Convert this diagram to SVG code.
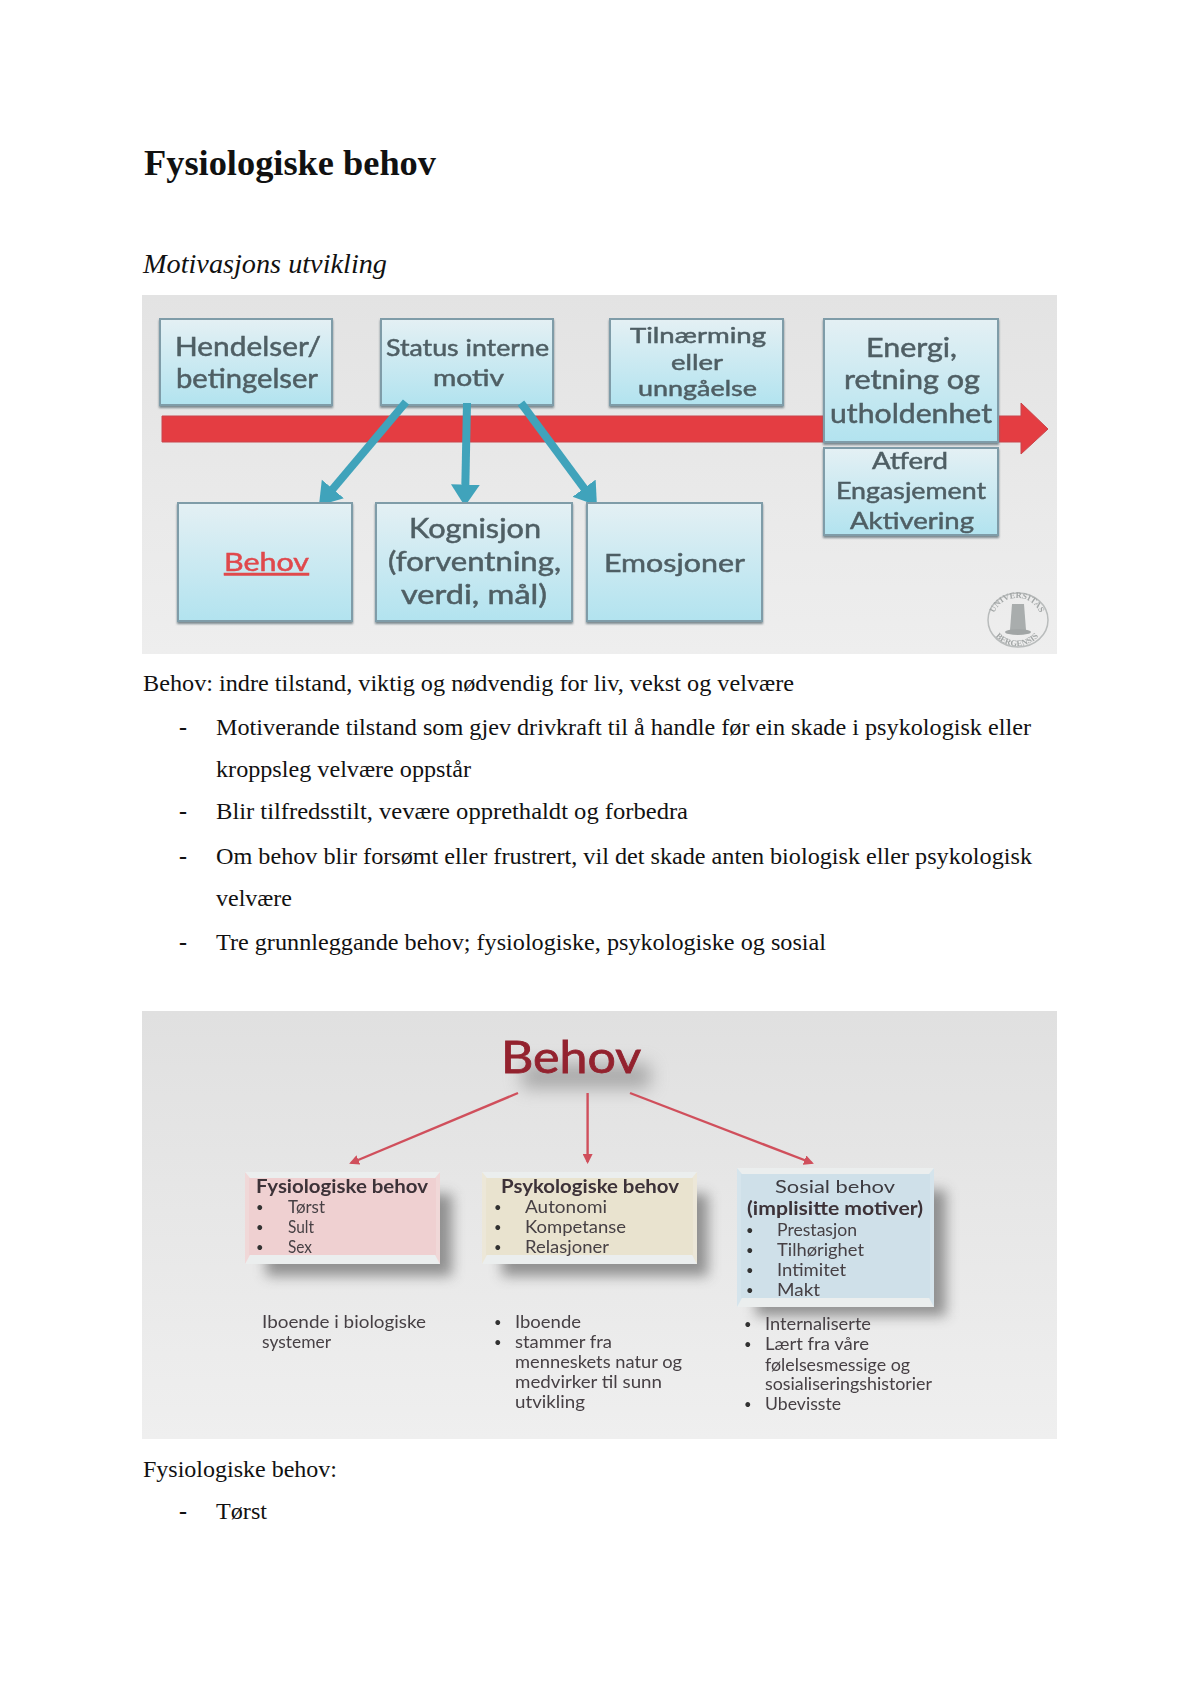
<svg xmlns="http://www.w3.org/2000/svg" width="1200" height="1698" viewBox="0 0 1200 1698">
<style>
.serif{font-family:"Liberation Serif","Times New Roman",serif;fill:#111}
.b{font-size:24px}
.d{font-size:24px;font-weight:700}
.g{font-family:Lato,"Noto Sans",sans-serif}
.t1{fill:#4f5e64;stroke:#4f5e64;stroke-width:0.5px}
.t2{fill:#464044;font-size:17px}
.dot{fill:#333;font-size:13px}
.h2{fill:#3c3238;font-size:18px;font-weight:700}
.blue{fill:url(#blue);stroke:#7f9ca8;stroke-width:2}
.teal{fill:none;stroke:#3fa3bb;stroke-width:8;marker-end:url(#tealHead)}
.red{fill:none;stroke:#d0505c;stroke-width:2.4;marker-end:url(#redHead)}
.bev{fill:#ebeeee}
</style>
<defs>
<linearGradient id="blue" x1="0" y1="0" x2="0" y2="1"><stop offset="0" stop-color="#e4f0f4"/><stop offset="1" stop-color="#b2e3ef"/></linearGradient>
<linearGradient id="bg1" x1="0" y1="0" x2="0" y2="1"><stop offset="0" stop-color="#e3e3e3"/><stop offset="1" stop-color="#eeeeee"/></linearGradient>
<linearGradient id="bg2" x1="0" y1="0" x2="0" y2="1"><stop offset="0" stop-color="#e0e0e0"/><stop offset="1" stop-color="#efefef"/></linearGradient>
<filter id="soft" x="-5%" y="-5%" width="110%" height="110%"><feGaussianBlur stdDeviation="0.7"/></filter>
<filter id="sh" x="-20%" y="-30%" width="140%" height="160%"><feGaussianBlur stdDeviation="6.5"/></filter>
<filter id="sh3" x="-30%" y="-100%" width="160%" height="300%"><feGaussianBlur stdDeviation="9"/></filter>
<filter id="sh2" x="-5%" y="-5%" width="115%" height="120%"><feDropShadow dx="0" dy="2" stdDeviation="1" flood-color="#5f7078" flood-opacity="0.8"/></filter>
<marker id="tealHead" markerUnits="userSpaceOnUse" markerWidth="24" markerHeight="30" viewBox="0 0 20 24" refX="2" refY="12" orient="auto"><path d="M0 0L18 12L0 24Z" fill="#3fa3bb"/></marker>
<marker id="redHead" markerUnits="userSpaceOnUse" markerWidth="10" markerHeight="10" viewBox="0 0 10 10" refX="8" refY="5" orient="auto"><path d="M0 0L10 5L0 10Z" fill="#d0505c"/></marker>
<path id="sealTop" d="M993 620A24 22 0 0 1 1041 620"/>
<path id="sealBot" d="M989 620A28 26 0 0 0 1045 620"/>
</defs>
<rect width="1200" height="1698" fill="#fff"/>

<g id="page-text-top" class="serif">
<text x="144" y="175" font-size="35" font-weight="700" textLength="292" lengthAdjust="spacingAndGlyphs">Fysiologiske behov</text>
<text x="143" y="273" font-size="26.7" font-style="italic" textLength="244" lengthAdjust="spacingAndGlyphs">Motivasjons utvikling</text>
<text class="b" x="143" y="691" textLength="651" lengthAdjust="spacingAndGlyphs">Behov: indre tilstand, viktig og nødvendig for liv, vekst og velvære</text>
<text class="d" x="179" y="735">-</text>
<text class="b" x="216" y="735" textLength="815" lengthAdjust="spacingAndGlyphs">Motiverande tilstand som gjev drivkraft til å handle før ein skade i psykologisk eller</text>
<text class="b" x="216" y="777" textLength="255" lengthAdjust="spacingAndGlyphs">kroppsleg velvære oppstår</text>
<text class="d" x="179" y="819">-</text>
<text class="b" x="216" y="819" textLength="472" lengthAdjust="spacingAndGlyphs">Blir tilfredsstilt, vevære opprethaldt og forbedra</text>
<text class="d" x="179" y="864">-</text>
<text class="b" x="216" y="864" textLength="816" lengthAdjust="spacingAndGlyphs">Om behov blir forsømt eller frustrert, vil det skade anten biologisk eller psykologisk</text>
<text class="b" x="216" y="906" textLength="76" lengthAdjust="spacingAndGlyphs">velvære</text>
<text class="d" x="179" y="950">-</text>
<text class="b" x="216" y="950" textLength="610" lengthAdjust="spacingAndGlyphs">Tre grunnleggande behov; fysiologiske, psykologiske og sosial</text>
<text class="b" x="143" y="1477" textLength="194" lengthAdjust="spacingAndGlyphs">Fysiologiske behov:</text>
<text class="d" x="179" y="1519">-</text>
<text class="b" x="216" y="1519" textLength="51" lengthAdjust="spacingAndGlyphs">Tørst</text>
</g>

<g id="figure-1" filter="url(#soft)">
<rect x="142" y="295" width="915" height="359" fill="url(#bg1)"/>
<path id="timeline" d="M162 416H1021V403L1048 429L1021 454V442H162Z" fill="#e43d42" stroke="#c9454a" stroke-width="1"/>
<g id="n-hendelser"><rect class="blue" x="160" y="319" width="172" height="86" filter="url(#sh2)"/>
<text class="g t1" font-size="26.5" x="175" y="356" textLength="146" lengthAdjust="spacingAndGlyphs">Hendelser/</text><text class="g t1" font-size="26.5" x="176" y="388" textLength="142" lengthAdjust="spacingAndGlyphs">betingelser</text></g>
<g id="n-status"><rect class="blue" x="381" y="319" width="172" height="86" filter="url(#sh2)"/>
<text class="g t1" font-size="23" x="386" y="356" textLength="163" lengthAdjust="spacingAndGlyphs">Status interne</text><text class="g t1" font-size="23" x="433" y="386" textLength="71" lengthAdjust="spacingAndGlyphs">motiv</text></g>
<g id="n-tilnaerming"><rect class="blue" x="610" y="319" width="173" height="86" filter="url(#sh2)"/>
<text class="g t1" font-size="22" x="630" y="343" textLength="136" lengthAdjust="spacingAndGlyphs">Tilnærming</text><text class="g t1" font-size="22" x="671" y="370" textLength="52" lengthAdjust="spacingAndGlyphs">eller</text><text class="g t1" font-size="22" x="638" y="396" textLength="119" lengthAdjust="spacingAndGlyphs">unngåelse</text></g>
<g id="n-energi"><rect class="blue" x="824" y="319" width="174" height="123" filter="url(#sh2)"/>
<text class="g t1" font-size="26.5" x="866" y="357" textLength="91" lengthAdjust="spacingAndGlyphs">Energi,</text><text class="g t1" font-size="26.5" x="844" y="389" textLength="136" lengthAdjust="spacingAndGlyphs">retning og</text><text class="g t1" font-size="26.5" x="830" y="423" textLength="162" lengthAdjust="spacingAndGlyphs">utholdenhet</text></g>
<g id="n-atferd"><rect class="blue" x="824" y="448" width="174" height="87" filter="url(#sh2)"/>
<text class="g t1" font-size="24" x="872" y="469" textLength="76" lengthAdjust="spacingAndGlyphs">Atferd</text><text class="g t1" font-size="24" x="836" y="499" textLength="150" lengthAdjust="spacingAndGlyphs">Engasjement</text><text class="g t1" font-size="24" x="850" y="529" textLength="124" lengthAdjust="spacingAndGlyphs">Aktivering</text></g>
<g id="connectors-1">
<line class="teal" x1="406" y1="402" x2="331.3" y2="490.8"/>
<line class="teal" x1="467" y1="403" x2="465.3" y2="487"/>
<line class="teal" x1="521" y1="403" x2="585.5" y2="490.1"/>
</g>
<g id="n-behov"><rect class="blue" x="178" y="503" width="174" height="118" filter="url(#sh2)"/>
<text class="g" font-size="25" fill="#e0484c" stroke="#e0484c" stroke-width="0.5" x="224" y="571" textLength="85" lengthAdjust="spacingAndGlyphs" text-decoration="underline">Behov</text></g>
<g id="n-kognisjon"><rect class="blue" x="376" y="503" width="196" height="118" filter="url(#sh2)"/>
<text class="g t1" font-size="27" x="409" y="538" textLength="132" lengthAdjust="spacingAndGlyphs">Kognisjon</text><text class="g t1" font-size="27" x="388" y="571" textLength="173" lengthAdjust="spacingAndGlyphs">(forventning,</text><text class="g t1" font-size="27" x="401" y="604" textLength="146" lengthAdjust="spacingAndGlyphs">verdi, mål)</text></g>
<g id="n-emosjoner"><rect class="blue" x="587" y="503" width="175" height="118" filter="url(#sh2)"/>
<text class="g t1" font-size="25" x="604" y="572" textLength="141" lengthAdjust="spacingAndGlyphs">Emosjoner</text></g>
<g id="seal" fill="none" stroke="#b9bcbc">
<ellipse cx="1018" cy="620" rx="30" ry="27" stroke-width="1.5"/>
<path d="M1012 604h12l2 26h-16Z" fill="#a9adad" stroke="none"/>
<ellipse cx="1018" cy="632" rx="13" ry="3" fill="#a2a6a6" stroke="none"/>
<text font-family="Liberation Serif,serif" font-size="8.5" font-weight="700" fill="#a2a6a6" stroke="none"><textPath href="#sealTop" startOffset="50%" text-anchor="middle">UNIVERSITAS</textPath></text>
<text font-family="Liberation Serif,serif" font-size="8.5" font-weight="700" fill="#a2a6a6" stroke="none"><textPath href="#sealBot" startOffset="50%" text-anchor="middle">BERGENSIS</textPath></text>
</g>
</g>

<g id="figure-2" filter="url(#soft)">
<rect x="142" y="1011" width="915" height="428" fill="url(#bg2)"/>
<rect x="522" y="1064" width="128" height="24" fill="#808080" opacity="0.6" filter="url(#sh3)"/>
<text id="n-root" class="g" x="501" y="1073" font-size="45" fill="#93232f" stroke="#93232f" stroke-width="0.8" textLength="140" lengthAdjust="spacingAndGlyphs">Behov</text>
<g id="connectors-2">
<line class="red" x1="518" y1="1093" x2="351" y2="1163"/>
<line class="red" x1="587.6" y1="1093" x2="587.6" y2="1162"/>
<line class="red" x1="630" y1="1093" x2="812" y2="1163"/>
</g>
<g id="n-fysiologiske">
<rect x="266" y="1194" width="186" height="82" fill="#4a4a4a" opacity="0.55" filter="url(#sh)"/>
<rect x="245" y="1172" width="195" height="92" fill="#f0d8d8"/>
<path class="bev" d="M245 1172H440L435 1178H250Z"/><path class="bev" d="M250 1255H435L440 1264H245Z"/>
<rect x="249" y="1178" width="187" height="77" fill="#efd0d1"/>
<text class="g h2" x="256" y="1193" textLength="172" lengthAdjust="spacingAndGlyphs">Fysiologiske behov</text>
<text class="g dot" x="256" y="1212">•</text><text class="g t2" x="288" y="1213" textLength="37" lengthAdjust="spacingAndGlyphs">Tørst</text>
<text class="g dot" x="256" y="1232">•</text><text class="g t2" x="288" y="1233" textLength="26" lengthAdjust="spacingAndGlyphs">Sult</text>
<text class="g dot" x="256" y="1252">•</text><text class="g t2" x="288" y="1253" textLength="24" lengthAdjust="spacingAndGlyphs">Sex</text>
</g>
<g id="n-psykologiske">
<rect x="502" y="1194" width="206" height="82" fill="#4a4a4a" opacity="0.55" filter="url(#sh)"/>
<rect x="482" y="1172" width="215" height="92" fill="#ece7d8"/>
<path class="bev" d="M482 1172H697L692 1178H487Z"/><path class="bev" d="M487 1255H692L697 1264H482Z"/>
<rect x="486" y="1178" width="207" height="77" fill="#e9e3cf"/>
<text class="g h2" x="501" y="1193" textLength="178" lengthAdjust="spacingAndGlyphs">Psykologiske behov</text>
<text class="g dot" x="494" y="1212">•</text><text class="g t2" x="525" y="1213" textLength="82" lengthAdjust="spacingAndGlyphs">Autonomi</text>
<text class="g dot" x="494" y="1232">•</text><text class="g t2" x="525" y="1233" textLength="101" lengthAdjust="spacingAndGlyphs">Kompetanse</text>
<text class="g dot" x="494" y="1252">•</text><text class="g t2" x="525" y="1253" textLength="84" lengthAdjust="spacingAndGlyphs">Relasjoner</text>
</g>
<g id="n-sosial">
<rect x="756" y="1190" width="190" height="126" fill="#4a4a4a" opacity="0.55" filter="url(#sh)"/>
<rect x="737" y="1168" width="197" height="139" fill="#d5e4ec"/>
<path class="bev" d="M737 1168H934L929 1174H742Z"/><path class="bev" d="M742 1298H929L934 1307H737Z"/>
<rect x="741" y="1174" width="189" height="124" fill="#cfe0e9"/>
<text class="g t2" style="font-size:18px;fill:#3c3a40" x="775" y="1193" textLength="120" lengthAdjust="spacingAndGlyphs">Sosial  behov</text>
<text class="g h2" x="747" y="1215" textLength="176" lengthAdjust="spacingAndGlyphs">(implisitte motiver)</text>
<text class="g dot" x="746" y="1235">•</text><text class="g t2" x="777" y="1236" textLength="80" lengthAdjust="spacingAndGlyphs">Prestasjon</text>
<text class="g dot" x="746" y="1255">•</text><text class="g t2" x="777" y="1256" textLength="87" lengthAdjust="spacingAndGlyphs">Tilhørighet</text>
<text class="g dot" x="746" y="1275">•</text><text class="g t2" x="777" y="1276" textLength="69" lengthAdjust="spacingAndGlyphs">Intimitet</text>
<text class="g dot" x="746" y="1295">•</text><text class="g t2" x="777" y="1296" textLength="43" lengthAdjust="spacingAndGlyphs">Makt</text>
</g>
<g id="notes-fysiologiske">
<text class="g t2" x="262" y="1328" textLength="164" lengthAdjust="spacingAndGlyphs">Iboende i biologiske</text>
<text class="g t2" x="262" y="1348" textLength="69" lengthAdjust="spacingAndGlyphs">systemer</text>
</g>
<g id="notes-psykologiske">
<text class="g dot" x="494" y="1327">•</text><text class="g t2" x="515" y="1328" textLength="66" lengthAdjust="spacingAndGlyphs">Iboende</text>
<text class="g dot" x="494" y="1347">•</text><text class="g t2" x="515" y="1348" textLength="97" lengthAdjust="spacingAndGlyphs">stammer fra</text>
<text class="g t2" x="515" y="1368" textLength="167" lengthAdjust="spacingAndGlyphs">menneskets natur og</text>
<text class="g t2" x="515" y="1388" textLength="147" lengthAdjust="spacingAndGlyphs">medvirker til sunn</text>
<text class="g t2" x="515" y="1408" textLength="70" lengthAdjust="spacingAndGlyphs">utvikling</text>
</g>
<g id="notes-sosial">
<text class="g dot" x="744" y="1329">•</text><text class="g t2" x="765" y="1330" textLength="106" lengthAdjust="spacingAndGlyphs">Internaliserte</text>
<text class="g dot" x="744" y="1349">•</text><text class="g t2" x="765" y="1350" textLength="104" lengthAdjust="spacingAndGlyphs">Lært fra våre</text>
<text class="g t2" x="765" y="1371" textLength="145" lengthAdjust="spacingAndGlyphs">følelsesmessige og</text>
<text class="g t2" x="765" y="1390" textLength="167" lengthAdjust="spacingAndGlyphs">sosialiseringshistorier</text>
<text class="g dot" x="744" y="1409">•</text><text class="g t2" x="765" y="1410" textLength="76" lengthAdjust="spacingAndGlyphs">Ubevisste</text>
</g>
</g>
</svg>
